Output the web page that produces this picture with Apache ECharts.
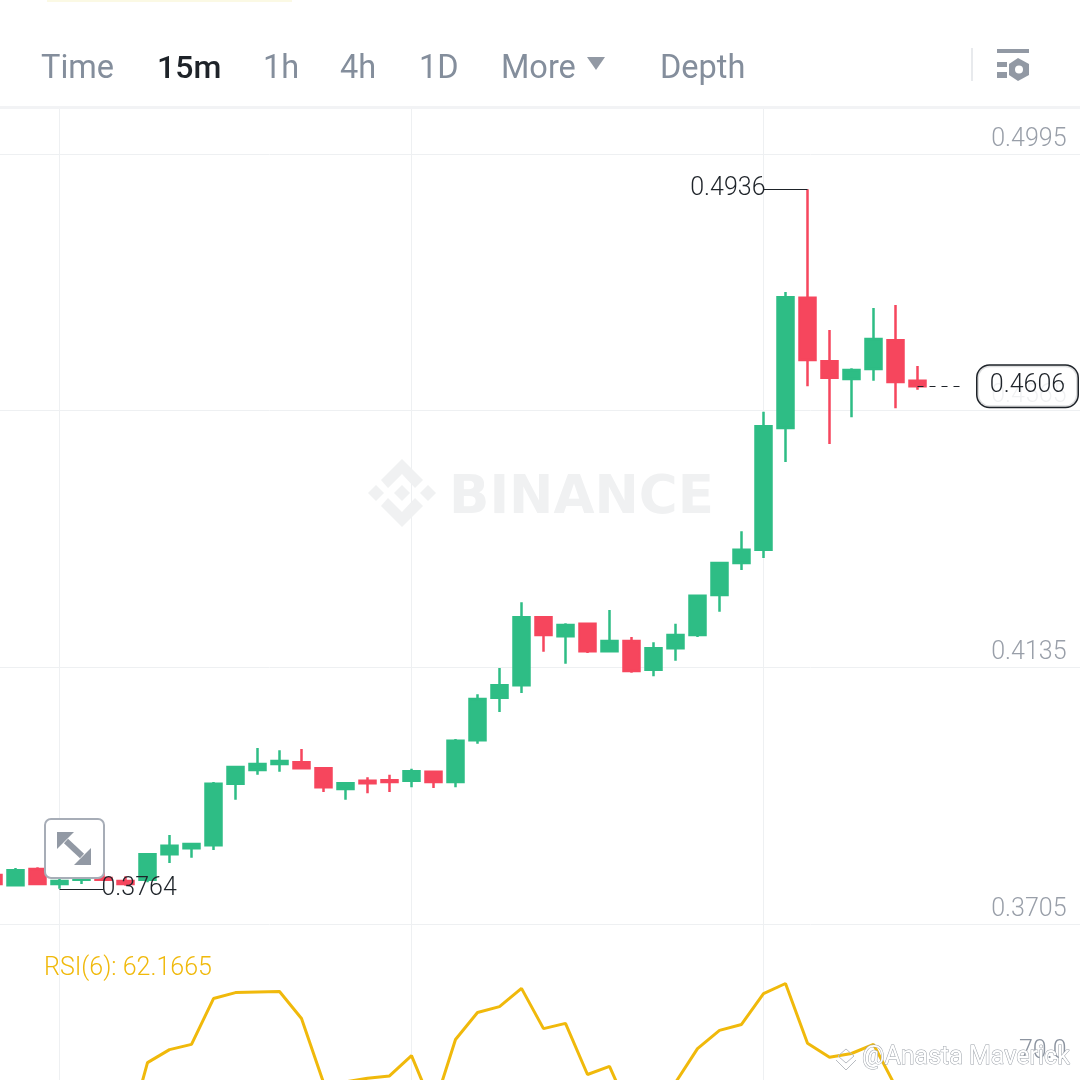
<!DOCTYPE html>
<html>
<head>
<meta charset="utf-8">
<title>BTC 15m</title>
<style>
  html, body { margin: 0; padding: 0; background: #fff; }
  #main { width: 1080px; height: 1080px; }
</style>
<script src="https://cdn.jsdelivr.net/npm/echarts@6/dist/echarts.min.js"></script>
</head>
<body>
<div id="main"></div>
<script>
// candle values
var opens = [0.3787, 0.3770, 0.3797, 0.3772, 0.3779, 0.3782, 0.3777, 0.3779, 0.3822, 0.3832, 0.3837,
  0.3940, 0.3963, 0.3973, 0.3976, 0.3966, 0.3931, 0.3945, 0.3946, 0.3945, 0.3960, 0.3943,
  0.4013, 0.4084, 0.4105, 0.4219, 0.4187, 0.4208, 0.4162, 0.4179, 0.4131, 0.4167, 0.4189,
  0.4256, 0.4310, 0.4332, 0.4536, 0.4754, 0.4648, 0.4618, 0.4635, 0.4683, 0.4615];
var closes = [0.3772, 0.3795, 0.3772, 0.3777, 0.3782, 0.3779, 0.3772, 0.3822, 0.3836, 0.3839, 0.3940,
  0.3968, 0.3973, 0.3978, 0.3966, 0.3934, 0.3941, 0.3941, 0.3943, 0.3961, 0.3943, 0.4012,
  0.4082, 0.4105, 0.4219, 0.4189, 0.4206, 0.4162, 0.4179, 0.4129, 0.4167, 0.4189, 0.4255,
  0.4310, 0.4332, 0.4539, 0.4755, 0.4650, 0.4620, 0.4633, 0.4685, 0.4613, 0.4606];
var lows = [0.3770, 0.3769, 0.3770, 0.3764, 0.3772, 0.3777, 0.3769, 0.3775, 0.3807, 0.3816, 0.3829,
  0.3913, 0.3955, 0.3960, 0.3965, 0.3926, 0.3913, 0.3924, 0.3926, 0.3934, 0.3933, 0.3934,
  0.4007, 0.4060, 0.4092, 0.4161, 0.4141, 0.4159, 0.4160, 0.4126, 0.4120, 0.4146, 0.4186,
  0.4228, 0.4298, 0.4318, 0.4479, 0.4606, 0.4509, 0.4554, 0.4615, 0.4569, 0.4600];
var highs = [0.3790, 0.3799, 0.3800, 0.3782, 0.3790, 0.3806, 0.3785, 0.3824, 0.3854, 0.3841, 0.3943,
  0.3969, 0.4000, 0.3996, 0.3998, 0.3967, 0.3943, 0.3951, 0.3955, 0.3965, 0.3961, 0.4015,
  0.4090, 0.4134, 0.4244, 0.4220, 0.4209, 0.4209, 0.4231, 0.4186, 0.4177, 0.4208, 0.4256,
  0.4312, 0.4363, 0.4563, 0.4764, 0.4936, 0.4700, 0.4636, 0.4737, 0.4742, 0.4640];
// first points of RSI are off the bottom of the picture
var rsi = [null, null, null, null, null, null, 48.6, 71.4, 75.1, 76.6, 89.7,
  91.4, 91.6, 91.7, 84.0, 65.7, 65.9, 66.9, 67.6, 73.4, 58.3, 78.0,
  85.7, 87.4, 92.6, 81.1, 82.6, 68.0, 70.3, 56.3, 58.3, 65.7, 75.4,
  80.6, 82.3, 91.1, 94.0, 76.9, 72.9, 74.0, 76.6, 64.6, 62.1665];

var priceTicks = [0.3705, 0.4135, 0.4565, 0.4995];
var rsiTicks = [70];
var tabs = ['Time', '15m', '1h', '4h', '1D', 'More', 'Depth'];
var tabX = [41, 157, 263, 340, 419, 501, 660];
var highPrice = 0.4936, lowPrice = 0.3764, lastPrice = 0.4606;

// slots past the last candle leave the empty room on the right
var categories = [];
for (var i = 0; i < 50; i++) categories.push(String(i));

var candleData = opens.map(function (o, i) {
    return [o, closes[i], lows[i], highs[i]];
});

var UP = '#2EBD85', DOWN = '#F6465D', GRID = '#EEF0F2', GREY = '#848E9C', DARK = '#1E2329';
var FONT = 'Roboto';

function xAxisFor(gridIndex) {
    return {
        type: 'category',
        gridIndex: gridIndex,
        data: categories,
        boundaryGap: true,
        axisLine: { show: false },
        axisTick: { show: false, alignWithLabel: true },
        axisLabel: { show: false },
        splitLine: {
            show: true,
            alignWithLabel: true,
            interval: function (index) { return (index - 3) % 16 === 0; },
            lineStyle: { color: GRID, width: 1 }
        }
    };
}

function poly(points, fill) {
    return { type: 'polygon', z: 1, silent: true, shape: { points: points }, style: { fill: fill } };
}

function label(x, y, text, size, fill, weight) {
    return {
        type: 'text', x: x, y: y, z: 5, silent: true,
        style: { text: text, fontFamily: FONT, fontSize: size, fontWeight: weight || 400, fill: fill, textVerticalAlign: 'middle' }
    };
}

var graphics = [
    { type: 'rect', z: 1, shape: { x: 47, y: 0, width: 245, height: 2 }, style: { fill: '#FBF9E4' } },
    { type: 'rect', z: 1, shape: { x: 0, y: 106, width: 1080, height: 3 }, style: { fill: '#F2F3F5' } },
    // 水印
    poly([[402, 459], [423, 480], [415, 488], [402, 474], [388, 488], [381, 480]], '#F0F1F2'),
    poly([[402, 527], [423, 506], [415, 498], [402, 512], [388, 498], [381, 506]], '#F0F1F2'),
    poly([[368, 493], [376, 485], [384, 493], [376, 501]], '#F0F1F2'),
    poly([[394, 493], [402, 485], [410, 493], [402, 501]], '#F0F1F2'),
    poly([[420, 493], [428, 485], [436, 493], [428, 501]], '#F0F1F2'),
    {
        type: 'text', x: 449, y: 499, z: 1, silent: true,
        style: { text: 'BINANCE', fontFamily: 'DejaVu Sans', fontWeight: 700, fontSize: 53, fill: '#F0F1F2', textVerticalAlign: 'middle' }
    },
    // 顶部工具栏
    poly([[587, 57], [605, 57], [596, 70]], '#9299A4'),
    { type: 'rect', z: 5, shape: { x: 971, y: 48, width: 2, height: 33 }, style: { fill: '#E8EAED' } },
    { type: 'rect', z: 5, shape: { x: 997, y: 49, width: 32, height: 4 }, style: { fill: '#9299A4' } },
    { type: 'rect', z: 5, shape: { x: 997, y: 62, width: 10, height: 5 }, style: { fill: '#9299A4' } },
    { type: 'rect', z: 5, shape: { x: 997, y: 72, width: 10, height: 6 }, style: { fill: '#9299A4' } },
    poly([[1018, 58], [1029, 64], [1029, 75], [1018, 81], [1009, 75], [1009, 64]], '#9299A4'),
    { type: 'circle', z: 5, shape: { cx: 1019, cy: 69.5, r: 4 }, style: { fill: '#fff' } },
    // 全屏按钮
    {
        type: 'rect', z: 10, silent: true,
        shape: { x: 45, y: 819, width: 59, height: 59, r: 6 },
        style: { fill: '#fff', stroke: '#A7ADB7', lineWidth: 2 }
    },
    { type: 'polygon', z: 11, shape: { points: [[57, 832], [74, 832], [57, 849]] }, style: { fill: '#9299A4' } },
    { type: 'polygon', z: 11, shape: { points: [[91, 865], [74, 865], [91, 848]] }, style: { fill: '#9299A4' } },
    { type: 'line', z: 11, shape: { x1: 66, y1: 841, x2: 82, y2: 856 }, style: { stroke: '#9299A4', lineWidth: 6 } },
    // 右下角水印
    {
        type: 'polyline', z: 12, silent: true,
        shape: { points: [[836, 1060], [846, 1070], [856, 1060]] },
        style: { stroke: '#B8BCC2', lineWidth: 1, fill: 'none' }
    },
    {
        type: 'polyline', z: 12, silent: true,
        shape: { points: [[838, 1056], [846, 1049], [854, 1056], [846, 1063], [838, 1056]] },
        style: { stroke: '#B8BCC2', lineWidth: 1, fill: 'none' }
    },
    {
        type: 'text', x: 862, y: 1058, z: 12, silent: true,
        style: {
            text: '@Anasta Maverick', fontFamily: FONT, fontSize: 25, fill: '#fff',
            stroke: '#9AA0A8', lineWidth: 1, textVerticalAlign: 'middle'
        }
    },
    label(44, 969, 'RSI(6): ' + rsi[rsi.length - 1].toFixed(4), 25, '#F0B90B', 300)
];

tabs.forEach(function (t, i) {
    var active = t === '15m';
    graphics.push(label(tabX[i], 70, t, active ? 32 : 32.5, active ? DARK : GREY, active ? 500 : 400));
});

var myChart = echarts.init(document.getElementById('main'), null, { renderer: 'canvas' });

myChart.setOption({
    animation: false,
    backgroundColor: '#fff',
    textStyle: { fontFamily: FONT },
    graphic: graphics,
    grid: [
        { left: -17.5, width: 1100, top: 108, height: 816, outerBoundsMode: 'none' },
        { left: -17.5, width: 1100, top: 924, height: 248.5, outerBoundsMode: 'none' }
    ],
    xAxis: [xAxisFor(0), xAxisFor(1)],
    yAxis: [{
        type: 'value',
        gridIndex: 0,
        position: 'right',
        min: 0.3705,
        max: 0.50721,
        axisLine: { show: false },
        axisTick: { show: false, customValues: priceTicks },
        axisLabel: {
            inside: true,
            margin: 16,
            customValues: priceTicks,
            formatter: function (v) { return v.toFixed(4); },
            fontFamily: FONT,
            fontSize: 25,
            fontWeight: 300,
            color: '#999FA9',
            verticalAlign: 'bottom',
            padding: [0, 0, 2, 0]
        },
        splitLine: { show: true, lineStyle: { color: GRID, width: 1 } }
    }, {
        type: 'value',
        gridIndex: 1,
        position: 'right',
        min: 40,
        max: 111,
        axisLine: { show: false },
        axisTick: { show: false, customValues: rsiTicks },
        axisLabel: {
            inside: true,
            margin: 16,
            customValues: rsiTicks,
            formatter: function (v) { return v.toFixed(1); },
            fontFamily: FONT,
            fontSize: 25,
            fontWeight: 300,
            color: '#8C94A0',
            verticalAlign: 'bottom',
            padding: [0, 0, 3, 0]
        },
        splitLine: { show: false }
    }],
    series: [{
        name: 'k',
        type: 'candlestick',
        xAxisIndex: 0,
        yAxisIndex: 0,
        data: candleData,
        barWidth: 17,
        itemStyle: {
            color: UP,
            color0: DOWN,
            borderColor: UP,
            borderColor0: DOWN,
            borderWidth: 2.5
        },
        markLine: {
            silent: true,
            symbol: 'none',
            animation: false,
            data: [
                [{
                    coord: ['35', highPrice],
                    lineStyle: { color: DARK, width: 1.2, type: 'solid' },
                    label: { show: true, position: 'start', distance: -2, formatter: highPrice.toFixed(4), color: DARK, fontFamily: FONT, fontWeight: 300, fontSize: 25 }
                }, { coord: ['37', highPrice] }],
                [{
                    coord: ['3', lowPrice],
                    lineStyle: { color: DARK, width: 1.2, type: 'solid' },
                    label: { show: true, position: 'end', distance: -2, formatter: lowPrice.toFixed(4), color: DARK, fontFamily: FONT, fontWeight: 300, fontSize: 25 }
                }, { coord: ['5', lowPrice] }],
                [{
                    coord: ['42', lastPrice],
                    lineStyle: { color: DARK, width: 1.2, type: [6, 6] },
                    label: { show: false }
                }, { coord: ['44', lastPrice] }]
            ]
        },
        markPoint: {
            silent: true,
            symbol: 'circle',
            symbolSize: 0,
            animation: false,
            data: [{
                coord: ['47', lastPrice],
                label: {
                    show: true,
                    position: 'inside',
                    formatter: lastPrice.toFixed(4),
                    color: DARK,
                    fontFamily: FONT,
                    fontWeight: 300,
                    fontSize: 25,
                    width: 100,
                    height: 41,
                    lineHeight: 47,
                    align: 'center',
                    backgroundColor: 'rgba(255,255,255,0.85)',
                    borderColor: DARK,
                    borderWidth: 1.5,
                    borderRadius: 12
                }
            }]
        }
    }, {
        name: 'RSI',
        type: 'line',
        xAxisIndex: 1,
        yAxisIndex: 1,
        data: rsi,
        showSymbol: false,
        smooth: false,
        lineStyle: { color: '#F0B90B', width: 3 }
    }]
});
</script>
</body>
</html>
